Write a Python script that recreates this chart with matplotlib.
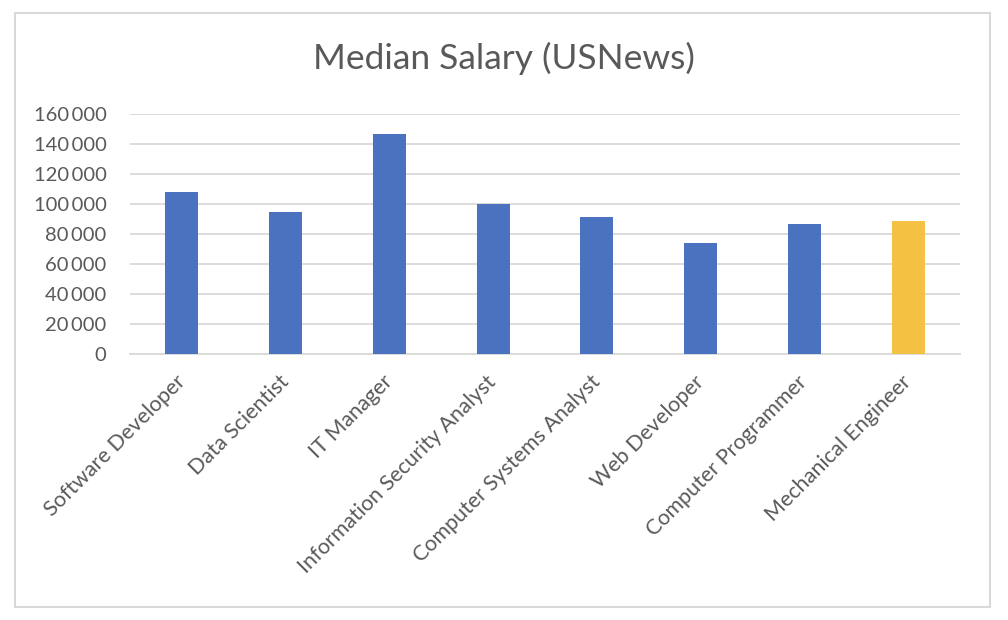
import matplotlib.pyplot as plt
from matplotlib.patches import Rectangle

plt.rcParams['font.family'] = ['Lato', 'DejaVu Sans']

jobs = ['Software Developer', 'Data Scientist', 'IT Manager',
        'Information Security Analyst', 'Computer Systems Analyst',
        'Web Developer', 'Computer Programmer', 'Mechanical Engineer']
salary = [107780, 94440, 146440, 99780, 91110, 73780, 86440, 88440]
bar_colors = ['#4A72BE'] * 7 + ['#F5C142']
yticks = [0, 20000, 40000, 60000, 80000, 100000, 120000, 140000, 160000]

txt = '#595959'
fig = plt.figure(figsize=(10.08, 6.2), dpi=100)
ax = fig.add_axes([130/1008, 1 - 353.7/620, (960-130)/1008, (353.7-114)/620])

x = list(range(len(jobs)))
ax.bar(x, salary, width=0.32, color=bar_colors, zorder=3)
ax.set_xlim(-0.5, len(jobs) - 0.5)
ax.set_ylim(0, 160000)
ax.set_yticks(yticks)
ax.set_yticklabels([f'{v:,}'.replace(',', '\u2009') if v else '0' for v in yticks])
ax.yaxis.grid(True, color='#D9D9D9', linewidth=1.3, zorder=0)
ax.set_axisbelow(True)
for s in ['top', 'right', 'left']:
    ax.spines[s].set_visible(False)
ax.spines['bottom'].set_color('#D9D9D9')
ax.spines['bottom'].set_linewidth(1.3)
ax.tick_params(axis='y', length=0, pad=17, labelsize=14.5, labelcolor=txt)
ax.tick_params(axis='x', length=0, pad=18)
ax.set_xticks(x)
ax.set_xticklabels(jobs, rotation=45, ha='right', va='center',
                   rotation_mode='anchor', fontsize=15.5, color=txt)

fig.text(0.5, 1 - 58/620, 'Median Salary (USNews)', ha='center', va='center',
         fontsize=25.5, color=txt)

fig.patches.append(Rectangle((15/1008, 1 - 607/620), (990-15)/1008, (607-13)/620,
                             transform=fig.transFigure, fill=False,
                             edgecolor='#D9D9D9', linewidth=1.5))

fig.savefig('out.png', dpi=100)
